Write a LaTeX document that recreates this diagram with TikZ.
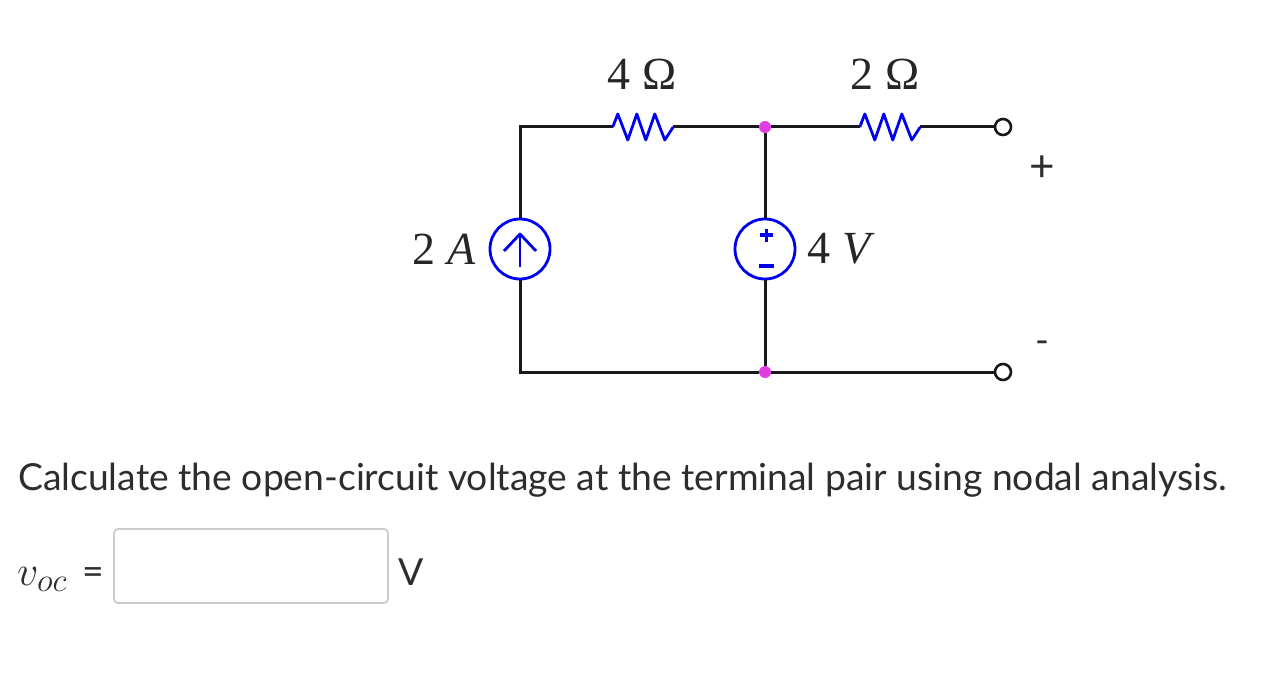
\documentclass[tikz,border=0pt]{standalone}
\RequirePackage{fix-cm}
\usepackage{fontspec}
\setmainfont{Lato}
\newfontfamily\valuefont{Liberation Serif}
\usetikzlibrary{positioning,calc}
\DeclareMathSizes{42}{42}{33}{21}
\definecolor{sourceblue}{RGB}{0,0,240}
\definecolor{dotmagenta}{RGB}{225,60,225}
\definecolor{textgray}{RGB}{45,45,45}
\definecolor{boxgray}{RGB}{204,204,204}
\def \wireWidth {3pt}
\def \sourceRadius {60pt}
\def \zigY {13}
\tikzset{
	wire/.style= {draw=black!90, line width=\wireWidth},
	blueline/.style= {draw=sourceblue, line width=2.8pt, line join=round},
	signline/.style= {draw=sourceblue, line width=3.2pt},
	source/.style= {draw=sourceblue, circle, line width=2.8pt, minimum size=\sourceRadius, inner sep=0pt},
	resistor/.style= {rectangle, minimum width=60pt, minimum height=26pt, inner sep=0pt},
	junction/.style= {circle, fill=dotmagenta, minimum size=12pt, inner sep=0pt},
	terminal/.style= {draw=black!90, circle, fill=white, line width=2.6pt, minimum size=16pt, inner sep=0pt},
	value/.style= {inner sep=0pt, text=black!85, font=\valuefont\fontsize{46}{50}\selectfont},
	sentence/.style= {inner sep=0pt, text=textgray, font=\fontsize{37.25}{44}\selectfont},
	answerbox/.style= {draw=boxgray, rectangle, rounded corners=4pt, line width=1.8pt, minimum width=274pt, minimum height=74pt, inner sep=0pt}
}
\begin{document}
\begin{tikzpicture}[x=1pt,y=-1pt]
	\useasboundingbox (0,0) rectangle (1280,690);

%%%%%%%%%%%%%%%%%%%%% Nodes %%%%%%%%%%%%%%%%%%%%%
	\node [source] (I2) at (520,249) {};
	\node [source] (V4) at (765,249) {};
	\node [resistor] (R4) at (643,127) {};
	\node [resistor] (R2) at (890,127) {};
	\node [junction] (J1) at (765,127) {};
	\node [junction] (J2) at (765,372) {};
	\node [terminal] (T1) at (1003,127) {};
	\node [terminal] (T2) at (1003,372) {};

	\node [value, above =24pt of R4, xshift=-1pt] (L4) {4 Ω};
	\node [value, above =24pt of R2, xshift=-5pt] (L2) {2 Ω};
	\node [value, left =13pt of I2] (LI) {2 \textit{A}};
	\node [value, right =11pt of V4] (LV) {4 \textit{V}};

	\node [sentence, font=\fontsize{44}{50}\selectfont] (P) at (1042,169) {+};
	\node [sentence] (M) at (1042,347) {-};

	\node [sentence, anchor=base west] (Q) at (18,490) {Calculate the open-circuit voltage at the terminal pair using nodal analysis.};
	\node [answerbox] (A) at (251,566) {};
	\node [sentence, right =9pt of A, yshift=-6pt] (U) {V};
	\node [sentence, left =9pt of A, yshift=-10pt] (E) {=};
	\node [inner sep=0pt, text=textgray, font=\fontsize{42}{48}\selectfont, anchor=base west] (Voc) at (17,585) {$v_{oc}$};

%%%%%%%%%%%%%%%%%%%%% Links %%%%%%%%%%%%%%%%%%%%%
	\draw [wire] (I2.north) |- (R4.west);
	\draw [wire] (I2.south) |- (J2.west);
	\draw [wire] (R4.east) -- (J1.west);
	\draw [wire] (J1.east) -- (R2.west);
	\draw [wire] (R2.east) -- (T1.west);
	\draw [wire] (J2.east) -- (T2.west);
	\draw [wire] (J1.south) -- (V4.north);
	\draw [wire] (V4.south) -- (J2.north);

%%%%%%%%%%%%%%%%%%%%% Symbols %%%%%%%%%%%%%%%%%%%%%
	\draw [blueline] (R4.west) -- ++(5,-\zigY) -- ++(10,26) -- ++(9,-26) -- ++(9,26) -- ++(9,-26) -- ++(10,26) -- (R4.east);
	\draw [blueline] (R2.west) -- ++(5,-\zigY) -- ++(10,26) -- ++(9,-26) -- ++(9,26) -- ++(9,-26) -- ++(10,26) -- (R2.east);
	\draw [blueline] ($(I2.center)+(0,18)$) -- ($(I2.center)+(0,-15)$);
	\draw [blueline] ($(I2.center)+(-16,2)$) -- ($(I2.center)+(0,-15)$) -- ($(I2.center)+(16,2)$);
	\draw [signline] ($(V4.center)+(-5,-14)$) -- ($(V4.center)+(8,-14)$);
	\draw [signline] ($(V4.center)+(1.5,-20.5)$) -- ($(V4.center)+(1.5,-7.5)$);
	\draw [signline] ($(V4.center)+(-6,17)$) -- ($(V4.center)+(9,17)$);
\end{tikzpicture}
\end{document}
